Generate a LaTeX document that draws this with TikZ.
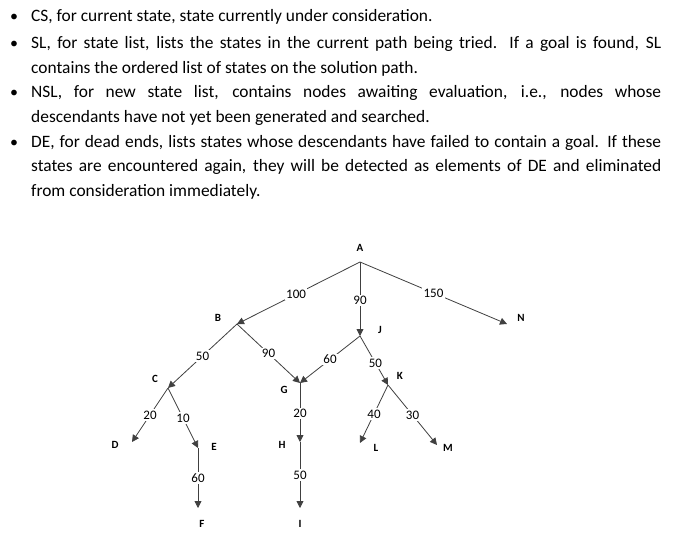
\documentclass[tikz,border=0pt]{standalone}
\usepackage{fontspec}
\setmainfont{Carlito}
\usetikzlibrary{arrows.meta}
\begin{document}
\begin{tikzpicture}[x=1pt,y=-1pt,
  para/.style={anchor=base west,text width=630pt,align=justify,inner sep=0pt,font=\fontsize{17.4}{24.5}\selectfont},
  bul/.style={anchor=base,inner sep=0pt,font=\fontsize{16}{16}\selectfont},
  vlab/.style={font=\bfseries\fontsize{11}{11}\selectfont,inner sep=0pt},
  elab/.style={fill=white,inner sep=1.5pt,font=\fontsize{13}{13}\selectfont},
  conn/.style={draw=black!75,line width=0.8pt,-{Triangle[length=7pt,width=7pt]}}]
\useasboundingbox[fill=white] (0,0) rectangle (700,559);
\foreach \y/\n in {22/b1,49/b2,98/b3,147/b4} \node[bul] (\n) at (14,\y) {•};
\node[para] (p1) at (31,22) {CS, for current state, state currently under consideration.};
\node[para] (p2) at (31,49) {SL, for state list, lists the states in the current path being tried. If a goal is found, SL\linebreak contains the ordered list of states on the solution path.};
\node[para] (p3) at (31,98) {NSL, for new state list, contains nodes awaiting evaluation, i.e., nodes whose\linebreak descendants have not yet been generated and searched.};
\node[para] (p4) at (31,147) {DE, for dead ends, lists states whose descendants have failed to contain a goal. If these\linebreak states are encountered again, they will be detected as elements of DE and eliminated\linebreak from consideration immediately.};
% vertices
\coordinate (A) at (360,262);
\coordinate (B) at (237,324);
\coordinate (J) at (360,336);
\coordinate (N) at (507,324);
\coordinate (C) at (168,388);
\coordinate (G) at (300,383);
\coordinate (K) at (388,385);
\coordinate (D) at (132,442);
\coordinate (E) at (198,448);
\coordinate (H) at (300,442);
\coordinate (L) at (360,443);
\coordinate (M) at (437,445);
\coordinate (F) at (198,508);
\coordinate (I) at (300,508);
\foreach \n/\x/\y in {A/360/248,B/218/318,J/380/330,N/521/318,C/155/379,G/284/390,K/400/376,D/115/445,E/214/447,H/282/445,L/376/448,M/448/448,F/202/524,I/300/524}
  \node[vlab] (l\n) at (\x,\y) {\n};
\foreach \a/\b in {A/B,A/J,A/N,B/C,B/G,J/G,J/K,C/D,C/E,G/H,K/L,K/M,E/F,H/I}
  \draw[conn] (\a) -- (\b);
\path (A) -- node[elab,pos=0.52]{100} (B);
\path (A) -- node[elab,pos=0.52]{90} (J);
\path (A) -- node[elab,pos=0.5]{150} (N);
\path (B) -- node[elab,pos=0.5]{50} (C);
\path (B) -- node[elab,pos=0.5]{90} (G);
\path (J) -- node[elab,pos=0.5]{60} (G);
\path (J) -- node[elab,pos=0.55]{50} (K);
\path (C) -- node[elab,pos=0.5]{20} (D);
\path (C) -- node[elab,pos=0.5]{10} (E);
\path (G) -- node[elab,pos=0.52]{20} (H);
\path (K) -- node[elab,pos=0.5]{40} (L);
\path (K) -- node[elab,pos=0.5]{30} (M);
\path (E) -- node[elab,pos=0.5]{60} (F);
\path (H) -- node[elab,pos=0.5]{50} (I);
\end{tikzpicture}
\end{document}
